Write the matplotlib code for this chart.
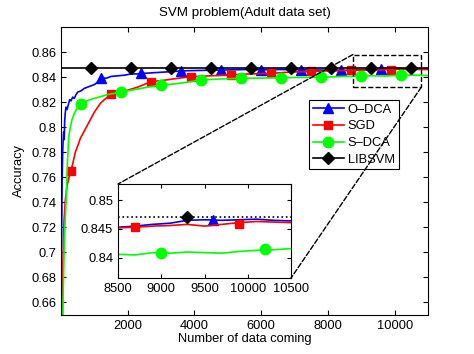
import numpy as np
import matplotlib.pyplot as plt
from matplotlib.patches import Rectangle, ConnectionPatch

plt.rcParams['font.family'] = ['Liberation Sans', 'DejaVu Sans']
plt.rcParams['font.size'] = 9.3

# O-DCA curve
x_odca = [0, 10, 20, 35, 50, 65, 80, 95, 110, 130, 150, 180, 220, 260, 300, 350, 400,
          450, 500, 600, 700, 800, 900, 1000, 1100, 1200, 1350, 1500, 1700, 1900, 2100,
          2300, 2500, 2800, 3100, 3400, 3700, 4000, 4500, 5000, 5500, 6000, 6500, 7000,
          7500, 8000, 8500, 8700, 8900, 9100, 9300, 9500, 9700, 9900, 10100, 10300,
          10500, 10700, 11000]
y_odca = [0.60, 0.66, 0.72, 0.76, 0.78, 0.79, 0.796, 0.79, 0.805, 0.812, 0.816, 0.814,
          0.818, 0.822, 0.821, 0.824, 0.823, 0.826, 0.828, 0.829, 0.831, 0.832, 0.833,
          0.834, 0.836, 0.8395, 0.839, 0.8405, 0.841, 0.8415, 0.8425, 0.8425, 0.843,
          0.8435, 0.844, 0.8445, 0.845, 0.8452, 0.8455, 0.8457, 0.846, 0.8458, 0.846,
          0.8459, 0.8457, 0.8455, 0.8453, 0.8455, 0.8458, 0.846, 0.8465, 0.8466, 0.8465,
          0.8466, 0.8467, 0.8465, 0.8464, 0.8464, 0.8464]

# SGD curve
x_sgd = [0, 30, 60, 90, 130, 180, 240, 300, 370, 430, 500, 580, 700, 880, 1000, 1180,
         1300, 1500, 1700, 2000, 2300, 2700, 3100, 3500, 3900, 4500, 5100, 5700, 6300,
         6900, 7500, 8100, 8500, 8700, 8900, 9100, 9300, 9500, 9700, 9900, 10100, 10300,
         10500, 10700, 11000]
y_sgd = [0.55, 0.62, 0.69, 0.725, 0.742, 0.753, 0.76, 0.765, 0.773, 0.78, 0.785, 0.791,
         0.797, 0.806, 0.812, 0.819, 0.822, 0.8263, 0.828, 0.8295, 0.832, 0.8363, 0.8375,
         0.839, 0.8403, 0.841, 0.8419, 0.8425, 0.843, 0.844, 0.8445, 0.845, 0.8452,
         0.8453, 0.8455, 0.8456, 0.8458, 0.8455, 0.8458, 0.8461, 0.8463, 0.8462, 0.8461,
         0.8461, 0.846]

# S-DCA curve
x_sdca = [0, 30, 60, 100, 150, 190, 230, 280, 330, 400, 500, 600, 700, 880, 1000, 1200,
          1400, 1600, 1800, 2000, 2300, 2600, 3000, 3400, 3800, 4200, 4800, 5400, 6000,
          6600, 7200, 7800, 8500, 8700, 8900, 9100, 9300, 9500, 9700, 9900, 10100, 10300,
          10500, 10700, 11000]
y_sdca = [0.55, 0.60, 0.66, 0.71, 0.74, 0.77, 0.792, 0.80, 0.806, 0.811, 0.816, 0.8188,
          0.820, 0.822, 0.823, 0.8245, 0.826, 0.827, 0.828, 0.829, 0.8305, 0.832, 0.8335,
          0.8345, 0.836, 0.8377, 0.8385, 0.839, 0.8392, 0.8395, 0.8397, 0.8398, 0.8406,
          0.8405, 0.8409, 0.8408, 0.841, 0.8409, 0.8408, 0.8411, 0.8413, 0.8414, 0.8416,
          0.8415, 0.8412]

libsvm_acc = 0.847

# marker positions
mx_odca = [1200, 2400, 3600, 4800, 6000, 7200, 8400, 9600]
my_odca = [0.8395, 0.8435, 0.845, 0.8457, 0.8458, 0.8459, 0.8455, 0.8466]
mx_sgd = [300, 1500, 2700, 3900, 5100, 6300, 7500, 8700, 9900]
my_sgd = [0.765, 0.8263, 0.8363, 0.8403, 0.8419, 0.843, 0.8445, 0.8453, 0.8458]
mx_sdca = [600, 1800, 3000, 4200, 5400, 6600, 7800, 9000, 10200]
my_sdca = [0.8188, 0.828, 0.8335, 0.8377, 0.839, 0.8395, 0.8398, 0.8408, 0.8415]
mx_lib = [900, 2100, 3300, 4500, 5700, 6900, 8100, 9300, 10500]

fig = plt.figure(figsize=(4.74, 3.54), dpi=100)
ax = fig.add_axes([0.1287, 0.1102, 0.7743, 0.8136])


def draw(a, xmax=None):
    # markers sitting on the right border are not shown in the zoomed panel
    def keep(xs, ys):
        if xmax is None:
            return xs, ys
        pairs = [(x, y) for x, y in zip(xs, ys) if x < xmax]
        return [p[0] for p in pairs], [p[1] for p in pairs]

    a.plot(x_odca, y_odca, color='blue', lw=1.2)
    a.plot(*keep(mx_odca, my_odca), ls='none', marker='^', color='blue', ms=7)
    a.plot(x_sgd, y_sgd, color='red', lw=1.2)
    a.plot(*keep(mx_sgd, my_sgd), ls='none', marker='s', color='red', ms=6)
    a.plot(x_sdca, y_sdca, color='#00ff00', lw=1.2)
    a.plot(*keep(mx_sdca, my_sdca), ls='none', marker='o', color='#00ff00', ms=7.5)
    a.plot(*keep(mx_lib, [libsvm_acc] * len(mx_lib)), ls='none', marker='D',
           color='black', ms=6.5)


draw(ax)
ax.axhline(libsvm_acc, color='black', lw=1.2)
ax.set_xlim(0, 11000)
ax.set_ylim(0.65, 0.88)
ax.set_xticks([2000, 4000, 6000, 8000, 10000])
ax.set_yticks(np.arange(0.66, 0.861, 0.02))
ax.set_yticklabels(['0.66', '0.68', '0.7', '0.72', '0.74', '0.76', '0.78', '0.8',
                    '0.82', '0.84', '0.86'])
ax.tick_params(direction='in', top=True, right=True, length=3.5)
ax.set_title('SVM problem(Adult data set)', fontsize=9.6, pad=8)
ax.set_xlabel('Number of data coming', labelpad=1)
ax.set_ylabel('Accuracy', labelpad=4)

# legend proxies
h = [plt.Line2D([], [], color='blue', marker='^', ms=7, lw=1.2),
     plt.Line2D([], [], color='red', marker='s', ms=6, lw=1.2),
     plt.Line2D([], [], color='#00ff00', marker='o', ms=7.5, lw=1.2),
     plt.Line2D([], [], color='black', marker='D', ms=6.5, lw=1.2)]
leg = ax.legend(h, ['O\u2013DCA', 'SGD', 'S\u2013DCA', 'LIBSVM'], loc='upper left',
                bbox_to_anchor=(309 / 474, 1 - 100 / 354), bbox_transform=fig.transFigure,
                fancybox=False, framealpha=1, edgecolor='black', handlelength=2.4,
                handletextpad=0.3, borderpad=0.3, labelspacing=0.35, borderaxespad=0)
leg.get_frame().set_linewidth(0.8)

# zoom box
ax.add_patch(Rectangle((8750, 0.832), 10800 - 8750, 0.858 - 0.832, fill=False,
                       ls='--', lw=1.0, color='black', zorder=5))

ins = fig.add_axes([0.249, 0.2147, 0.365, 0.2655])
draw(ins, xmax=10500)
ins.axhline(libsvm_acc, color='black', lw=1.2, ls=':')
ins.set_xlim(8500, 10500)
ins.set_ylim(0.8365, 0.8528)
ins.set_xticks([8500, 9000, 9500, 10000, 10500])
ins.set_yticks([0.84, 0.845, 0.85])
ins.set_yticklabels(['0.84', '0.845', '0.85'])
ins.tick_params(direction='in', top=True, right=True, length=3)

for pa, pb in [((8750, 0.858), (0, 1)), ((10800, 0.832), (1, 0))]:
    cp = ConnectionPatch(xyA=pa, coordsA=ax.transData, xyB=pb, coordsB=ins.transAxes,
                         ls='--', lw=1.0, color='black')
    fig.add_artist(cp)

fig.savefig('out.png', dpi=100)
